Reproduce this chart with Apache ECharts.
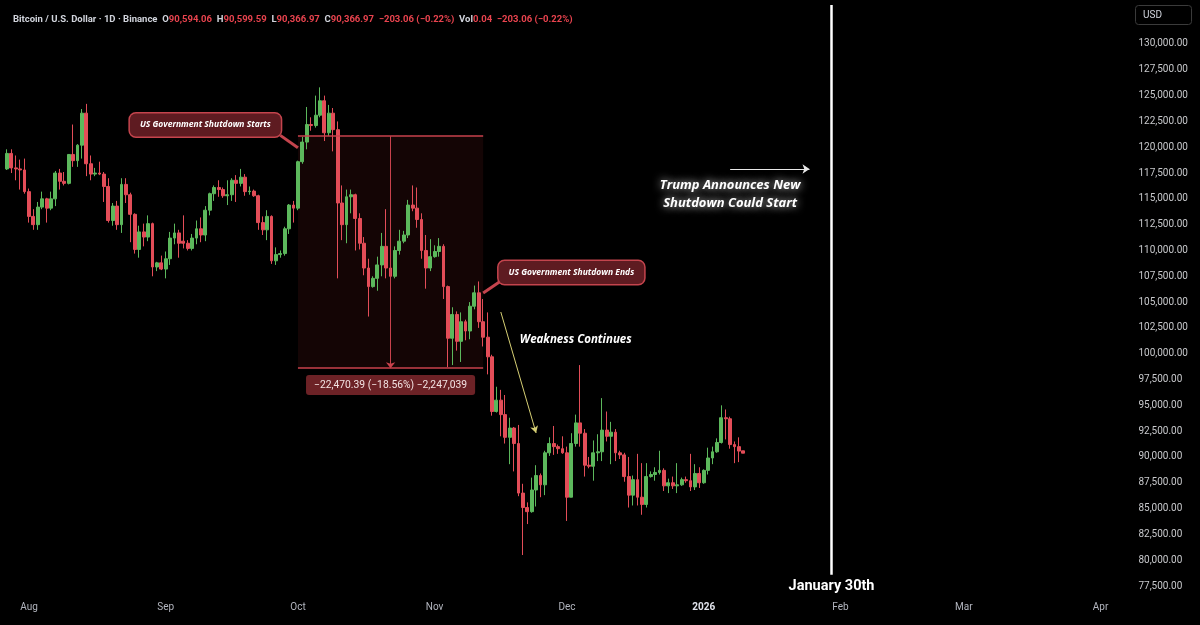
<!DOCTYPE html>
<html>
<head>
<meta charset="utf-8">
<script src="https://cdn.jsdelivr.net/npm/echarts@6/dist/echarts.min.js"></script>
<style>
html,body{margin:0;padding:0;background:#000;}
#c{width:1200px;height:625px;}
</style>
</head>
<body>
<div id="c"></div>
<script>
// ---------- data ----------
const firstCandleDate = '2025-07-27';
const axisEndDate = '2026-04-05';

const opens = [
  117900,119400,118000,117900,117800,
  115700,113300,112500,114200,115000,114100,115000,117500,116700,116500,119300,118700,120200,123300,118400,117400,117500,117400,116200,112900,114300,112500,116400,115400,113500,110100,111800,111300,112600,108400,108800,
  108200,109200,111200,111700,110900,110700,110200,111200,112100,111500,113900,115500,116100,115900,115300,115400,116800,116500,117100,115700,115750,115300,112700,112000,113300,109000,109600,109700,112100,114400,
  114100,118600,120500,122200,122100,123100,124500,121400,123300,121700,114600,112500,115200,115400,113100,110700,108300,106500,107300,108600,110400,108300,107500,110000,110900,111500,114400,114100,113000,110000,108300,
  109400,109900,110400,106500,101500,103800,101200,103100,102200,104600,105900,103100,101600,99700,94400,95500,94100,91900,92800,91300,86500,85100,84700,86800,88200,87300,90400,91300,91000,90800,
  90400,86100,91300,93300,92300,89200,89100,90400,90500,92600,92000,92400,90400,90200,88100,86300,87800,86100,85400,88100,88300,88500,88700,87200,87500,87200,87300,87800,87700,87100,88400,
  87500,88700,89900,90500,91400,93800,93700,91200,91000,90594.06
];
const highs = [
  119800,119800,119200,118800,118900,
  116000,114000,114700,115700,115100,115700,117700,117900,117600,119300,122200,120300,123700,124200,119200,118000,118600,117600,117000,114600,114800,117000,117000,115600,113600,112400,112600,113400,112700,108900,109500,
  109900,111800,112600,112000,113400,111000,111600,112900,113200,114300,115600,116300,116800,116100,116800,117000,117300,117900,117400,116200,115900,115400,113300,113900,113400,110300,110000,112300,114500,114800,
  118700,121000,123900,122900,125000,125800,125000,124100,123800,122500,116300,115900,115900,115500,113600,111300,109200,107500,109400,111700,114000,109000,110400,112000,111900,114900,116300,116100,113600,111500,111100,
  110500,111200,110600,106600,104500,104100,104000,103300,105000,106600,107000,105300,104000,99900,96800,96500,96000,93800,92900,93100,87400,85600,88000,89200,88400,90600,91900,93000,91200,92000,
  91000,92300,94100,98900,92700,90000,91600,92200,95700,94400,93400,92700,90600,90400,90000,88200,90300,89400,89400,88600,89000,90600,88900,87900,88100,89400,88000,88100,90300,89300,89000,
  88800,90900,91000,91800,95000,94600,93900,91500,91900,90599.59
];
const lows = [
  117800,117500,116800,115900,115500,
  112700,112000,112000,114000,112700,113900,114300,115900,116300,116400,118100,118100,118900,117200,116800,117200,117300,114700,112700,112400,112000,111700,114600,110800,109700,109300,110400,110900,107500,108000,108100,
  107300,108600,110600,109300,110200,110000,110000,110600,110800,110900,113400,114800,115200,115100,114400,114800,114700,116200,115300,115400,115200,112000,111500,111000,108700,108600,109300,109500,111600,112700,
  113900,118400,119800,121600,121900,122900,120600,121100,119600,107300,111000,110700,113600,110000,110100,107600,103600,106400,106100,107500,107300,106600,107300,109600,110700,111200,113800,112200,109200,106300,108000,
  109300,109400,105300,98700,98900,100300,99200,101300,101400,104300,102500,100700,98000,94000,94300,92000,91300,89300,88600,86200,80500,83500,84600,85200,86100,86300,90100,90200,90300,90300,
  83800,86100,91000,91000,88100,88900,87700,89600,89600,91500,89300,89600,89800,87600,85100,85300,85300,84400,85100,88000,87700,88300,86700,86500,86900,86500,87200,87500,86700,86800,87000,
  87400,88300,89300,90400,91300,91700,90800,89400,89500,90366.97
];
const closes = [
  119400,118000,117900,117800,115700,
  113300,112500,114200,115000,114100,115000,117500,116700,116500,119300,118700,120200,123300,118400,117400,117500,117400,116200,112900,114300,112500,116400,115400,113500,110100,111800,111300,112600,108400,108800,108200,
  109200,111200,111700,110700,110700,110200,111200,112100,111500,113900,115500,116100,115900,115300,115400,116800,116500,117100,115700,115750,115300,112700,112000,113300,109000,109600,109700,112100,114400,114100,
  118600,120500,122200,122100,123100,124500,121400,123300,121700,114600,112500,115200,115400,113100,110700,108300,106500,107300,108600,110400,108300,107500,110000,110900,111500,114400,114100,113000,110000,108300,109400,
  109900,110400,106500,101500,103800,101200,103100,102200,104600,105900,103100,101600,99700,94400,95500,94100,91900,92800,91300,86500,85100,84700,86800,88200,87300,90400,91300,91000,90800,90400,
  86100,91300,93300,92300,89200,89100,90400,90500,92600,92000,92400,90400,90200,88100,86300,87800,86100,85400,88100,88300,88500,88700,87200,87500,87200,87300,87800,87700,87100,88400,87500,
  88700,89900,90500,91400,93800,93700,91200,91000,90570.03,90366.97
];
const volumeText = '0.04';

const priceTicks = [77500,80000,82500,85000,87500,90000,92500,95000,97500,100000,102500,105000,107500,110000,112500,115000,117500,120000,122500,125000,127500,130000];
const monthNames = ['Jan','Feb','Mar','Apr','May','Jun','Jul','Aug','Sep','Oct','Nov','Dec'];

// measured move of the shutdown window
const measureStart = '2025-10-01', measureEnd = '2025-11-12', measureMid = '2025-10-22';
const measureTop = 121069.70;
const measureBottom = 98599.31;

// ---------- helpers ----------
function fmtDate(t){const d=new Date(t);return d.getUTCFullYear()+'-'+String(d.getUTCMonth()+1).padStart(2,'0')+'-'+String(d.getUTCDate()).padStart(2,'0');}
const categories=[];
for(let t=Date.parse(firstCandleDate+'T00:00:00Z');t<=Date.parse(axisEndDate+'T00:00:00Z');t+=86400000){categories.push(fmtDate(t));}
const candles = opens.map((o,i)=>[o,closes[i],lows[i],highs[i]]);

function num(v){return Math.abs(v).toLocaleString('en-US',{minimumFractionDigits:2,maximumFractionDigits:2});}
function sgn(v){return v<0?'\u2212':'';}
const last = closes.length-1;
const chg = closes[last]-closes[last-1];
const pct = chg/closes[last-1]*100;
const chgText = sgn(chg)+num(chg)+' ('+sgn(pct)+Math.abs(pct).toFixed(2)+'%)';
const headerText =
  '{t|Bitcoin / U.S. Dollar \u00b7 1D \u00b7 Binance}  '+
  '{k|O}{v|'+num(opens[last])+'}  {k|H}{v|'+num(highs[last])+'}  {k|L}{v|'+num(lows[last])+'}  {k|C}{v|'+num(closes[last])+'}  '+
  '{v|'+chgText+'}  {k|Vol}{v|'+volumeText+'}  {v|'+chgText+'}';

const mDiff = measureBottom-measureTop;
const mPct = mDiff/measureTop*100;
const mTicks = Math.round(mDiff*100);
const measureText = sgn(mDiff)+num(mDiff)+' ('+sgn(mPct)+Math.abs(mPct).toFixed(2)+'%) '+sgn(mTicks)+Math.abs(mTicks).toLocaleString('en-US');

const annFont = '"Open Sans", Lato, sans-serif';
const red = '#c8424c';

function labelPoint(date, price, text, style){
  return {coord:[date,price], symbol:'rect', symbolSize:1, itemStyle:{color:'rgba(0,0,0,0)'},
    label:Object.assign({show:true, position:'inside', formatter:text}, style)};
}

const chart = echarts.init(document.getElementById('c'), null, {renderer:'canvas'});
chart.setOption({
  backgroundColor:'#000000',
  animation:false,
  title:[
    {text:headerText, left:8, top:10,
      textStyle:{fontSize:9.5, fontFamily:'Roboto, sans-serif', rich:{
        t:{color:'#d1d4dc', fontSize:9.5, fontFamily:'Roboto, sans-serif'},
        k:{color:'#d1d4dc', fontSize:9.5, fontFamily:'Roboto, sans-serif'},
        v:{color:'#e8434e', fontSize:9.5, fontFamily:'Roboto, sans-serif'}}}},
    {text:'USD', right:8, top:5, borderColor:'#3b3b3b', borderWidth:1, borderRadius:3,
      padding:[5,30,5,8], textStyle:{color:'#d1d4dc', fontSize:10, fontWeight:'normal', fontFamily:'Roboto, sans-serif'}}
  ],
  grid:{left:4.7, right:79.6, top:0, bottom:30},
  xAxis:{
    type:'category', data:categories, boundaryGap:true,
    axisLine:{show:false}, axisTick:{show:false}, splitLine:{show:false},
    axisLabel:{
      color:'#b2b5be', fontSize:10, margin:7, fontFamily:'Roboto, sans-serif',
      interval:(i,v)=>v.slice(8)==='01',
      formatter:v=>{const m=+v.slice(5,7);return m===1?'{y|'+v.slice(0,4)+'}':monthNames[m-1];},
      rich:{y:{fontWeight:'bold', color:'#e0e3eb', fontSize:10, fontFamily:'Roboto, sans-serif'}}
    }
  },
  yAxis:{
    type:'value', position:'right', min:76628.3, max:134261.8, scale:true,
    axisLine:{show:false}, axisTick:{show:false}, splitLine:{show:false},
    axisLabel:{customValues:priceTicks, color:'#c8c9cc', fontSize:10, margin:18, fontFamily:'Roboto, sans-serif',
      formatter:v=>v.toLocaleString('en-US',{minimumFractionDigits:2,maximumFractionDigits:2})}
  },
  series:[{
    type:'candlestick',
    data:candles,
    barWidth:'76%',
    itemStyle:{color:'#5cb85c', color0:'#e34d58', borderColor:'#5cb85c', borderColor0:'#e34d58', borderWidth:1},
    markArea:{silent:true, itemStyle:{color:'rgba(220,50,60,0.09)'},
      data:[[{xAxis:measureStart, yAxis:measureTop},{xAxis:measureEnd, yAxis:measureBottom}]]},
    markLine:{silent:true, symbol:'none', label:{show:false}, animation:false,
      data:[
        [{coord:[measureStart,measureTop], lineStyle:{color:red,width:1.5,type:'solid'}},{coord:[measureEnd,measureTop]}],
        [{coord:[measureStart,measureBottom], lineStyle:{color:red,width:1.5,type:'solid'}},{coord:[measureEnd,measureBottom]}],
        [{coord:[measureMid,measureTop], symbol:'none', lineStyle:{color:red,width:1,type:'solid'}},{coord:[measureMid,measureBottom], symbol:'arrow', symbolSize:[7,6]}],
        [{coord:['2025-11-16',104040], symbol:'none', lineStyle:{color:'#d6cf74',width:1,type:'solid'}},{coord:['2025-11-24',92320], symbol:'arrow', symbolSize:[6,7]}],
        [{coord:['2026-01-07',117890], symbol:'none', lineStyle:{color:'#e8e8e8',width:1,type:'solid'}},{coord:['2026-01-25',117890], symbol:'arrow', symbolSize:[7,7]}],
        [{coord:['2026-01-30',133780], lineStyle:{color:'#ffffff',width:2.5,type:'solid'}},{coord:['2026-01-30',78600]}],
        [{coord:['2025-09-27',121150], lineStyle:{color:'#c4444d',width:3,type:'solid'}},{coord:['2025-10-01',119950]}],
        [{coord:['2025-11-16',107040], lineStyle:{color:'#c4444d',width:3,type:'solid'}},{coord:['2025-11-12',105880]}]
      ]},
    markPoint:{silent:true, animation:false,
      data:[
        labelPoint('2025-09-10',122150,'US Government Shutdown Starts',{color:'#ffffff', fontSize:8.5, fontWeight:'bold', fontStyle:'italic', fontFamily:annFont, backgroundColor:'#5e1b21', borderColor:'#c4444d', borderWidth:1.5, borderRadius:6, padding:[7,10]}),
        labelPoint('2025-12-02',107870,'US Government Shutdown Ends',{color:'#ffffff', fontSize:8.5, fontWeight:'bold', fontStyle:'italic', fontFamily:annFont, backgroundColor:'#5e1b21', borderColor:'#c4444d', borderWidth:1.5, borderRadius:6, padding:[7,10]}),
        labelPoint(measureMid,96970,measureText,{color:'#f3e3e3', fontSize:10.3, fontFamily:'Roboto, sans-serif', backgroundColor:'#6c2226', borderRadius:3, padding:[5,8]}),
        labelPoint('2025-12-03',101330,'Weakness Continues',{color:'#ffffff', fontSize:11.5, fontWeight:'bold', fontStyle:'italic', fontFamily:annFont}),
        labelPoint('2026-01-07',115470,'Trump Announces New\nShutdown Could Start',{color:'#ffffff', fontSize:13, lineHeight:18, fontWeight:'bold', fontStyle:'italic', fontFamily:annFont, textShadowColor:'rgba(255,255,255,0.9)', textShadowBlur:8, align:'center'}),
        labelPoint('2026-01-30',77500,'January 30th',{color:'#ffffff', fontSize:14.5, fontWeight:'bold', fontFamily:'Roboto, sans-serif'})
      ]}
  }]
});
</script>
</body>
</html>
